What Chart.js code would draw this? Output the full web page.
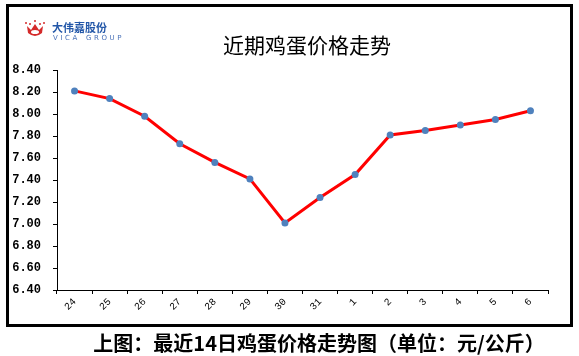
<!DOCTYPE html>
<html>
<head>
<meta charset="utf-8">
<script src="https://cdn.jsdelivr.net/npm/chart.js@4.4.0/dist/chart.umd.min.js"></script>
<style>
  html, body { margin: 0; padding: 0; background: #fff; }
  #box { position: relative; width: 579px; height: 356px; }
</style>
</head>
<body>
<div id="box"><canvas id="eggChart" width="579" height="356"></canvas></div>

<script>
// dates (day of month) for the last 14 days
const days = ['24', '25', '26', '27', '28', '29', '30', '31', '1', '2', '3', '4', '5', '6'];
// egg price, yuan per kg
const prices = [8.21, 8.14, 7.98, 7.73, 7.56, 7.41, 7.01, 7.24, 7.45, 7.81, 7.85, 7.90, 7.95, 8.03];

const chartTitle = '近期鸡蛋价格走势';
const caption = '上图：最近14日鸡蛋价格走势图（单位：元/公斤）';
const logoName = '大伟嘉股份';
const logoSub = 'VICA GROUP';

// frame, title, logo and caption drawn round the chart
const decorPlugin = {
  id: 'decor',
  beforeDraw(chart) {
    const ctx = chart.ctx;
    ctx.save();
    ctx.fillStyle = '#fff';
    ctx.fillRect(0, 0, chart.width, chart.height);
    ctx.restore();
  },
  afterDraw(chart) {
    const ctx = chart.ctx;
    ctx.save();

    // outer frame
    ctx.strokeStyle = '#000';
    ctx.lineWidth = 3;
    ctx.strokeRect(7.5, 5.5, 564, 320);

    // title
    ctx.fillStyle = '#000';
    ctx.font = '21px "Noto Sans CJK SC"';
    ctx.textAlign = 'center';
    ctx.textBaseline = 'middle';
    ctx.fillText(chartTitle, 307, 45);

    // logo crown
    ctx.fillStyle = '#d42a2a';
    ctx.beginPath();
    ctx.moveTo(27, 26);
    ctx.lineTo(31, 30);
    ctx.lineTo(35, 24);
    ctx.lineTo(39, 30);
    ctx.lineTo(43, 26);
    ctx.lineTo(42, 33);
    ctx.quadraticCurveTo(35, 39, 28, 33);
    ctx.closePath();
    ctx.fill();
    ctx.fillStyle = '#fff';
    ctx.beginPath();
    ctx.ellipse(35, 32, 4, 2, 0, 0, Math.PI * 2);
    ctx.fill();
    ctx.fillStyle = '#d42a2a';
    [[26, 23], [35, 21], [44, 23], [30, 24], [40, 24]].forEach(p => {
      ctx.beginPath();
      ctx.arc(p[0], p[1], 1, 0, Math.PI * 2);
      ctx.fill();
    });

    // logo text
    ctx.fillStyle = '#2357a8';
    ctx.textAlign = 'left';
    ctx.font = 'bold 11px "Noto Sans CJK SC"';
    ctx.fillText(logoName, 52, 28);
    ctx.fillStyle = '#4a72b8';
    ctx.font = '7px "DejaVu Sans"';
    let x = 53;
    for (const ch of logoSub) {
      ctx.fillText(ch, x, 38);
      x += ch === ' ' ? 6 : ctx.measureText(ch).width + 2.6;
    }

    // caption under the frame
    ctx.fillStyle = '#000';
    ctx.textAlign = 'center';
    ctx.font = 'bold 20px "Noto Sans CJK SC"';
    ctx.fillText(caption, 319, 343);

    ctx.restore();
  }
};

const ctx = document.getElementById('eggChart').getContext('2d');
const eggChart = new Chart(ctx, {
  type: 'line',
  data: {
    labels: days,
    datasets: [{
      data: prices,
      borderColor: '#ff0000',
      borderWidth: 3,
      pointBackgroundColor: '#4f81bd',
      pointBorderWidth: 0,
      pointRadius: 3.5,
      tension: 0
    }]
  },
  options: {
    responsive: false,
    animation: false,
    layout: {
      padding: { left: 8, right: 31, top: 70, bottom: 0 }
    },
    plugins: {
      legend: { display: false },
      tooltip: { enabled: false }
    },
    scales: {
      x: {
        offset: true,
        afterFit(scale) { scale.height = 66; },
        grid: {
          display: true,
          drawOnChartArea: false,
          offset: true,
          tickLength: 4,
          color: '#000'
        },
        border: { color: '#000', width: 1 },
        ticks: {
          autoSkip: false,
          maxRotation: 45,
          minRotation: 45,
          padding: 2,
          color: '#000',
          font: { family: '"Liberation Mono"', size: 10 }
        }
      },
      y: {
        min: 6.4,
        max: 8.4,
        afterFit(scale) { scale.width = 49; },
        grid: {
          display: true,
          drawOnChartArea: false,
          tickLength: 4,
          color: '#000'
        },
        border: { color: '#000', width: 1 },
        ticks: {
          stepSize: 0.2,
          padding: 12,
          color: '#000',
          font: { family: '"Liberation Mono"', size: 12, weight: 'bold' },
          callback: v => v.toFixed(2)
        }
      }
    }
  },
  plugins: [decorPlugin]
});
</script>
</body>
</html>
